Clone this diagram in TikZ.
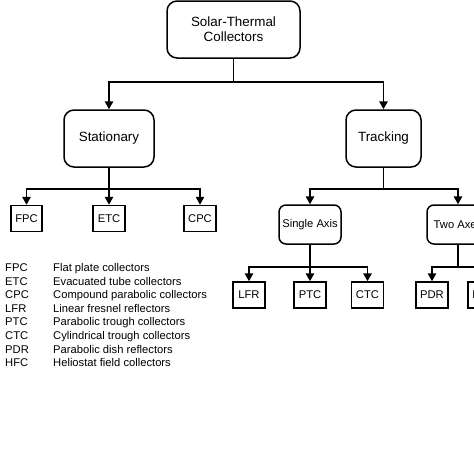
\documentclass[tikz,border=0pt]{standalone}
\usepackage{fontspec}
\setmainfont{Liberation Sans}
\usetikzlibrary{arrows.meta}
\begin{document}
\begin{tikzpicture}[x=1pt,y=-1pt,
  box/.style={draw,line width=1.5pt,inner sep=0pt,align=center,text=black},
  bigbox/.style={box,rounded corners=10pt,font=\fontsize{13.4}{15}\selectfont},
  midbox/.style={box,rounded corners=7pt,font=\fontsize{11.2}{13}\selectfont},
  leaf/.style={box,font=\fontsize{11.2}{13}\selectfont,minimum width=32pt,minimum height=26pt},
  conn/.style={line width=1.5pt},
  arr/.style={conn,-{Triangle[length=8pt,width=8.5pt]}},
  legab/.style={anchor=base west,inner sep=0pt,font=\fontsize{11.2}{13}\selectfont},
]
\useasboundingbox (0,0) rectangle (474,474);
\fill[white] (0,0) rectangle (474,474);
\node[bigbox,minimum width=133pt,minimum height=57pt] (top) at (233.5,29.5) {Solar-Thermal\\Collectors};
\node[bigbox,minimum width=90pt,minimum height=57pt] (stat) at (109,138.5) {Stationary};
\node[bigbox,minimum width=75pt,minimum height=57pt] (track) at (383.5,138.5) {Tracking};
\node[leaf,minimum width=31pt] (fpc) at (26.5,218.5) {FPC};
\node[leaf] (etc) at (109,218.5) {ETC};
\node[leaf] (cpc) at (200,218.5) {CPC};
\node[midbox,minimum width=62pt,minimum height=39pt] (single) at (310,224.5) {Single Axis};
\node[midbox,minimum width=62pt,minimum height=39pt] (two) at (458,224.5) {Two Axes};
\node[leaf] (lfr) at (249,295) {LFR};
\node[leaf] (ptc) at (310,295) {PTC};
\node[leaf] (ctc) at (367.5,295) {CTC};
\node[leaf] (pdr) at (432,295) {PDR};
\node[leaf] (hfc) at (484,295) {HFC};
% buses
\coordinate (b1) at (233.5,82);
\coordinate (b2) at (109,189);
\coordinate (b3) at (383.5,189);
\coordinate (b4) at (310,267);
\coordinate (b5) at (458,267);
\draw[conn] (top.south) -- (b1);
\draw[arr] (b1) -| (stat.north);
\draw[arr] (b1) -| (track.north);
\draw[conn] (stat.south) -- (b2);
\draw[arr] (b2) -| (fpc.north);
\draw[arr] (b2) -- (etc.north);
\draw[arr] (b2) -| (cpc.north);
\draw[conn] (track.south) -- (b3);
\draw[arr] (b3) -| (single.north);
\draw[arr] (b3) -| (two.north);
\draw[conn] (single.south) -- (b4);
\draw[arr] (b4) -| (lfr.north);
\draw[arr] (b4) -- (ptc.north);
\draw[arr] (b4) -| (ctc.north);
\draw[conn] (two.south) -- (b5);
\draw[arr] (b5) -| (pdr.north);
\draw[arr] (b5) -| (hfc.north);
% legend
\foreach \ab/\de [count=\i from 0] in {FPC/Flat plate collectors,ETC/Evacuated tube collectors,CPC/Compound parabolic collectors,LFR/Linear fresnel reflectors,PTC/Parabolic trough collectors,CTC/Cylindrical trough collectors,PDR/Parabolic dish reflectors,HFC/Heliostat field collectors}{
  \node[legab] (la\i) at (5,{271.5+13.6*\i}) {\ab};
  \node[legab] (ld\i) at (53,{271.5+13.6*\i}) {\de};
}
\end{tikzpicture}
\end{document}
